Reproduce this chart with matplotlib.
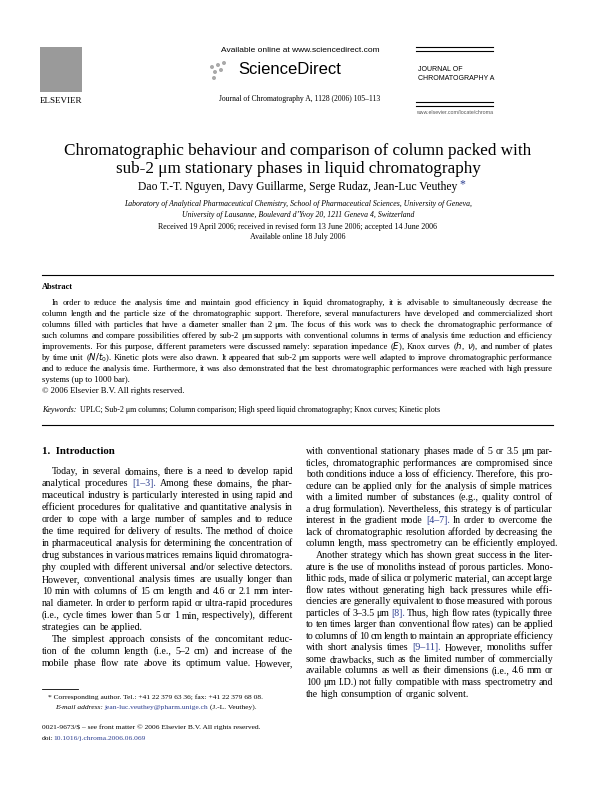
import matplotlib
matplotlib.use("Agg")
import matplotlib.pyplot as plt
from matplotlib.patches import Rectangle, Circle

SERIF = "Liberation Serif"
SANS = "Liberation Sans"
LINK = "#2b3d8f"

title_lines = ["Chromatographic behaviour and comparison of column packed with",
               "sub-2 \u03bcm stationary phases in liquid chromatography"]
authors = "Dao T.-T. Nguyen, Davy Guillarme, Serge Rudaz, Jean-Luc Veuthey"
affiliation = ["Laboratory of Analytical Pharmaceutical Chemistry, School of Pharmaceutical Sciences, University of Geneva,",
               "University of Lausanne, Boulevard d\u2019Yvoy 20, 1211 Geneva 4, Switzerland"]
dates = ["Received 19 April 2006; received in revised form 13 June 2006; accepted 14 June 2006",
         "Available online 18 July 2006"]

abstract_lines = [
    "In order to reduce the analysis time and maintain good efficiency in liquid chromatography, it is advisable to simultaneously decrease the",
    "column length and the particle size of the chromatographic support. Therefore, several manufacturers have developed and commercialized short",
    "columns filled with particles that have a diameter smaller than 2 \u03bcm. The focus of this work was to check the chromatographic performance of",
    "such columns and compare possibilities offered by sub-2 \u03bcm supports with conventional columns in terms of analysis time reduction and efficiency",
    "improvements. For this purpose, different parameters were discussed namely: separation impedance ($E$), Knox curves ($h$, $\\nu$), and number of plates",
    "by time unit ($N/t_0$). Kinetic plots were also drawn. It appeared that sub-2 \u03bcm supports were well adapted to improve chromatographic performance",
    "and to reduce the analysis time. Furthermore, it was also demonstrated that the best chromatographic performances were reached with high pressure",
]
abstract_end = ["systems (up to 1000 bar).", "\u00a9 2006 Elsevier B.V. All rights reserved."]
keywords = "UPLC; Sub-2 \u03bcm columns; Column comparison; High speed liquid chromatography; Knox curves; Kinetic plots"

left_col = [
    ("Today, in several domains, there is a need to develop rapid", True),
    ("analytical procedures [1\u20133]. Among these domains, the phar-", True),
    ("maceutical industry is particularly interested in using rapid and", True),
    ("efficient procedures for qualitative and quantitative analysis in", True),
    ("order to cope with a large number of samples and to reduce", True),
    ("the time required for delivery of results. The method of choice", True),
    ("in pharmaceutical analysis for determining the concentration of", True),
    ("drug substances in various matrices remains liquid chromatogra-", True),
    ("phy coupled with different universal and/or selective detectors.", True),
    ("However, conventional analysis times are usually longer than", True),
    ("10 min with columns of 15 cm length and 4.6 or 2.1 mm inter-", True),
    ("nal diameter. In order to perform rapid or ultra-rapid procedures", True),
    ("(i.e., cycle times lower than 5 or 1 min, respectively), different", True),
    ("strategies can be applied.", False),
    ("The simplest approach consists of the concomitant reduc-", True),
    ("tion of the column length (i.e., 5\u20132 cm) and increase of the", True),
    ("mobile phase flow rate above its optimum value. However,", True),
]
right_col = [
    ("with conventional stationary phases made of 5 or 3.5 \u03bcm par-", True),
    ("ticles, chromatographic performances are compromised since", True),
    ("both conditions induce a loss of efficiency. Therefore, this pro-", True),
    ("cedure can be applied only for the analysis of simple matrices", True),
    ("with a limited number of substances (e.g., quality control of", True),
    ("a drug formulation). Nevertheless, this strategy is of particular", True),
    ("interest in the gradient mode [4\u20137]. In order to overcome the", True),
    ("lack of chromatographic resolution afforded by decreasing the", True),
    ("column length, mass spectrometry can be efficiently employed.", False),
    ("Another strategy which has shown great success in the liter-", True),
    ("ature is the use of monoliths instead of porous particles. Mono-", True),
    ("lithic rods, made of silica or polymeric material, can accept large", True),
    ("flow rates without generating high back pressures while effi-", True),
    ("ciencies are generally equivalent to those measured with porous", True),
    ("particles of 3\u20133.5 \u03bcm [8]. Thus, high flow rates (typically three", True),
    ("to ten times larger than conventional flow rates) can be applied", True),
    ("to columns of 10 cm length to maintain an appropriate efficiency", True),
    ("with short analysis times [9\u201311]. However, monoliths suffer", True),
    ("some drawbacks, such as the limited number of commercially", True),
    ("available columns as well as their dimensions (i.e., 4.6 mm or", True),
    ("100 \u03bcm I.D.) not fully compatible with mass spectrometry and", True),
    ("the high consumption of organic solvent.", False),
]
indented = {0, 14}
indented_r = {9}

fig = plt.figure(figsize=(5.95, 7.94), dpi=100)
ax = fig.add_axes([0, 0, 1, 1])
ax.set_xlim(0, 595)
ax.set_ylim(794, 0)
ax.axis("off")
renderer = fig.canvas.get_renderer()


def put(x, y, s, size=7, ha="left", **kw):
    kw.setdefault("family", SERIF)
    return ax.text(x, y, s, fontsize=size, ha=ha, va="baseline", **kw)


def width(t):
    return t.get_window_extent(renderer).width


def run(x, y, parts, size):
    # parts: (text, kwargs) placed one after another
    for s, kw in parts:
        t = put(x, y, s, size=size, **kw)
        x += width(t)
    return x


def justify(x0, x1, y, line, full, size=7):
    words = line.split(" ")
    arts = []
    for w in words:
        col = LINK if (w.startswith("[") or "]" in w) else "black"
        arts.append(put(x0, y, w, size=size, color=col))
    widths = [width(a) for a in arts]
    space = size * 0.25 * 100 / 72
    if full and len(words) > 1:
        space = (x1 - x0 - sum(widths)) / (len(words) - 1)
    x = x0
    for a, w in zip(arts, widths):
        a.set_x(x)
        x += w + space


# header
ax.add_patch(Rectangle((40, 47), 42, 45, facecolor="#9a9a9a", edgecolor="none"))
put(61, 103, "ELSEVIER", size=6.5, ha="center")
put(300, 52, "Available online at www.sciencedirect.com", size=6, ha="center", family=SANS)
for dx, dy in [(0, 0), (6, -2), (12, -4), (3, 5), (9, 3), (2, 11)]:
    ax.add_patch(Circle((212 + dx, 67 + dy), 1.3, color="#aaaaaa"))
put(238, 74, "ScienceDirect", size=12, family=SANS)
put(300, 101, "Journal of Chromatography A, 1128 (2006) 105\u2013113", size=5.5, ha="center")
for yy in (47, 51, 102, 106):
    ax.plot([416, 493], [yy, yy], color="black", lw=0.8)
put(418, 71, "JOURNAL OF", size=5, family=SANS)
put(418, 80, "CHROMATOGRAPHY A", size=5, family=SANS)
put(493, 114, "www.elsevier.com/locate/chroma", size=3.8, ha="right", family=SANS, color="#555555")

# title block
put(298, 155, title_lines[0], size=12.3, ha="center")
put(298, 173, title_lines[1], size=12.3, ha="center")
a = put(298, 190, authors, size=8.4, ha="center")
put(a.get_window_extent(renderer).x1 + 2, 187, "*", size=8.5, color=LINK)
put(298, 206, affiliation[0], size=5.6, ha="center", style="italic")
put(298, 217, affiliation[1], size=5.6, ha="center", style="italic")
put(298, 229, dates[0], size=5.8, ha="center")
put(298, 239, dates[1], size=5.8, ha="center")
ax.plot([42, 553], [275, 275], color="black", lw=0.8)

# abstract
put(42, 289, "Abstract", size=6, weight="bold")
ay = 305
for i, ln in enumerate(abstract_lines):
    justify(42 + (10 if i == 0 else 0), 553, ay + 11 * i, ln, True, size=6.2)
put(42, ay + 11 * 7, abstract_end[0], size=6.2)
put(42, ay + 11 * 8, abstract_end[1], size=6.2)
run(42, 412, [("Keywords:  ", dict(style="italic")), (keywords, {})], 5.8)
ax.plot([42, 553], [425, 425], color="black", lw=0.8)

# body
put(42, 454, "1.  Introduction", size=7.8, weight="bold")
ly = 474
for i, (ln, full) in enumerate(left_col):
    justify(42 + (10 if i in indented else 0), 293, ly + 12 * i, ln, full, size=7.1)
for i, (ln, full) in enumerate(right_col):
    justify(306 + (10 if i in indented_r else 0), 553, 454 + 11.55 * i, ln, full, size=7.1)

# footnotes
ax.plot([42, 78], [689, 689], color="black", lw=0.6)
put(48, 699, "* Corresponding author. Tel.: +41 22 379 63 36; fax: +41 22 379 68 08.", size=5.4)
run(55, 709, [("E-mail address: ", dict(style="italic")),
              ("jean-luc.veuthey@pharm.unige.ch", dict(color=LINK)),
              (" (J.-L. Veuthey).", {})], 5.4)
put(42, 729, "0021-9673/$ \u2013 see front matter \u00a9 2006 Elsevier B.V. All rights reserved.", size=5.4)
run(42, 740, [("doi:", {}), ("10.1016/j.chroma.2006.06.069", dict(color=LINK))], 5.4)

fig.savefig("out.png", dpi=100)
